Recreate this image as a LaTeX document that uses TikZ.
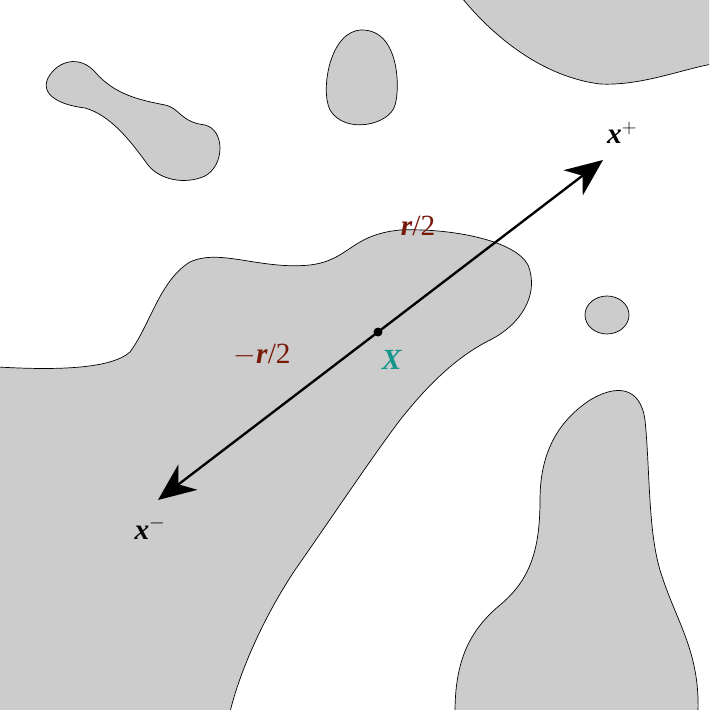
\documentclass[tikz,border=0pt]{standalone}
\usepackage{fontspec}
\setmainfont{Liberation Serif}
\usetikzlibrary{arrows.meta}
\definecolor{blob}{gray}{0.8}
\definecolor{dred}{RGB}{120,25,10}
\definecolor{teal2}{RGB}{20,150,140}
\begin{document}
\begin{tikzpicture}[x=0.03cm,y=-0.03cm,
  region/.style={fill=blob,draw=black,line width=0.6pt},
  lab/.style={font=\fontsize{25}{28}\selectfont},
  arr/.style={line width=2pt,-{Stealth[length=32pt,width=27pt,inset=10pt]}}]
\useasboundingbox (0,0) rectangle (709,710);
\clip (0,0) rectangle (709,710);
% top-right
\path[region] (462,-2) .. controls (480,20) and (530,75) .. (600,84) .. controls (640,86) and (680,70) .. (712,64) -- (712,-2) -- cycle;
% left dumbbell
\path[region] (48,78) .. controls (58,60) and (80,55) .. (95,72) .. controls (115,95) and (140,100) .. (165,105) .. controls (180,108) and (180,122) .. (205,125) .. controls (225,130) and (225,165) .. (205,176) .. controls (185,185) and (160,180) .. (148,165) .. controls (130,140) and (110,115) .. (85,108) .. controls (60,105) and (40,95) .. (48,78) -- cycle;
% oval
\path[region] (362,30) .. controls (400,30) and (400,90) .. (395,105) .. controls (390,125) and (345,135) .. (330,110) .. controls (320,90) and (330,30) .. (362,30) -- cycle;
% small circle
\path[region] (607,315) ellipse [x radius=22, y radius=19];
% main shape
\path[region] (-2,367) .. controls (50,370) and (110,370) .. (130,352) .. controls (150,325) and (160,280) .. (190,262) .. controls (220,248) and (260,270) .. (310,265) .. controls (350,260) and (350,235) .. (400,230) .. controls (450,228) and (515,240) .. (528,265) .. controls (540,295) and (520,325) .. (490,340) .. controls (450,360) and (420,395) .. (400,420) .. controls (370,460) and (330,520) .. (295,570) .. controls (265,615) and (240,670) .. (230,712) -- (-2,712) -- cycle;
% bottom-right
\path[region] (455,712) .. controls (455,660) and (470,630) .. (500,605) .. controls (530,580) and (540,550) .. (540,500) .. controls (540,450) and (560,420) .. (590,400) .. controls (615,385) and (640,385) .. (645,420) .. controls (650,470) and (648,530) .. (660,570) .. controls (675,620) and (700,650) .. (698,712) -- cycle;
% arrows
\coordinate (X) at (378,332);
\coordinate (xp) at (603,160);
\coordinate (xm) at (158,500);
\draw[arr] (X) -- (xp);
\draw[arr] (X) -- (xm);
\fill (X) circle (4.5);
\node[lab] (lxp) at (622,133) {\textbf{\textit{x}}$^{+}$};
\node[lab] (lxm) at (150,528) {\textbf{\textit{x}}$^{-}$};
\node[lab,text=dred] (lr) at (418,226) {\textbf{\textit{r}}/2};
\node[lab,text=dred] (lmr) at (262,355) {$-$\textbf{\textit{r}}/2};
\node[lab,text=teal2] (lX) at (392,360) {\textbf{\textit{X}}};
\end{tikzpicture}
\end{document}
